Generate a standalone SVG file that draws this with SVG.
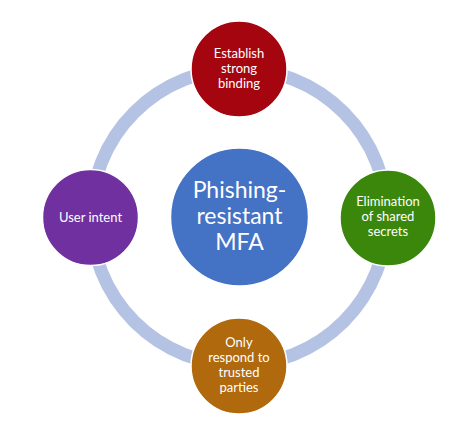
<svg xmlns="http://www.w3.org/2000/svg" width="474" height="433" viewBox="0 0 474 433">
<style>
.node circle{stroke:#ffffff;stroke-width:1.5}
.lbl{font-family:Lato,"Liberation Sans",sans-serif;fill:#ffffff;text-anchor:middle;font-size:13px}
.big{font-size:23px}
</style>
<rect width="474" height="433" fill="#ffffff"/>
<g id="connectors">
<circle cx="239" cy="217" r="148" fill="none" stroke="#b4c3e3" stroke-width="13"/>
</g>
<g id="center" class="node">
<circle cx="239.5" cy="217" r="69" fill="#4472c4"/>
<text class="lbl big" x="239.5" y="198">Phishing-</text>
<text class="lbl big" x="239.5" y="224">resistant</text>
<text class="lbl big" x="239.5" y="250">MFA</text>
</g>
<g id="binding" class="node">
<circle cx="239" cy="69" r="48" fill="#a5050f"/>
<text class="lbl" x="239" y="58">Establish</text>
<text class="lbl" x="239" y="73">strong</text>
<text class="lbl" x="239" y="88">binding</text>
</g>
<g id="secrets" class="node">
<circle cx="388" cy="218" r="48" fill="#3b870b"/>
<text class="lbl" x="388" y="206">Elimination</text>
<text class="lbl" x="388" y="221">of shared</text>
<text class="lbl" x="388" y="236">secrets</text>
</g>
<g id="trusted" class="node">
<circle cx="239" cy="366" r="48" fill="#b0690c"/>
<text class="lbl" x="239" y="347">Only</text>
<text class="lbl" x="239" y="362">respond to</text>
<text class="lbl" x="239" y="377">trusted</text>
<text class="lbl" x="239" y="392">parties</text>
</g>
<g id="intent" class="node">
<circle cx="90.5" cy="217.5" r="48" fill="#7030a0"/>
<text class="lbl" x="90.5" y="222">User intent</text>
</g>
</svg>
